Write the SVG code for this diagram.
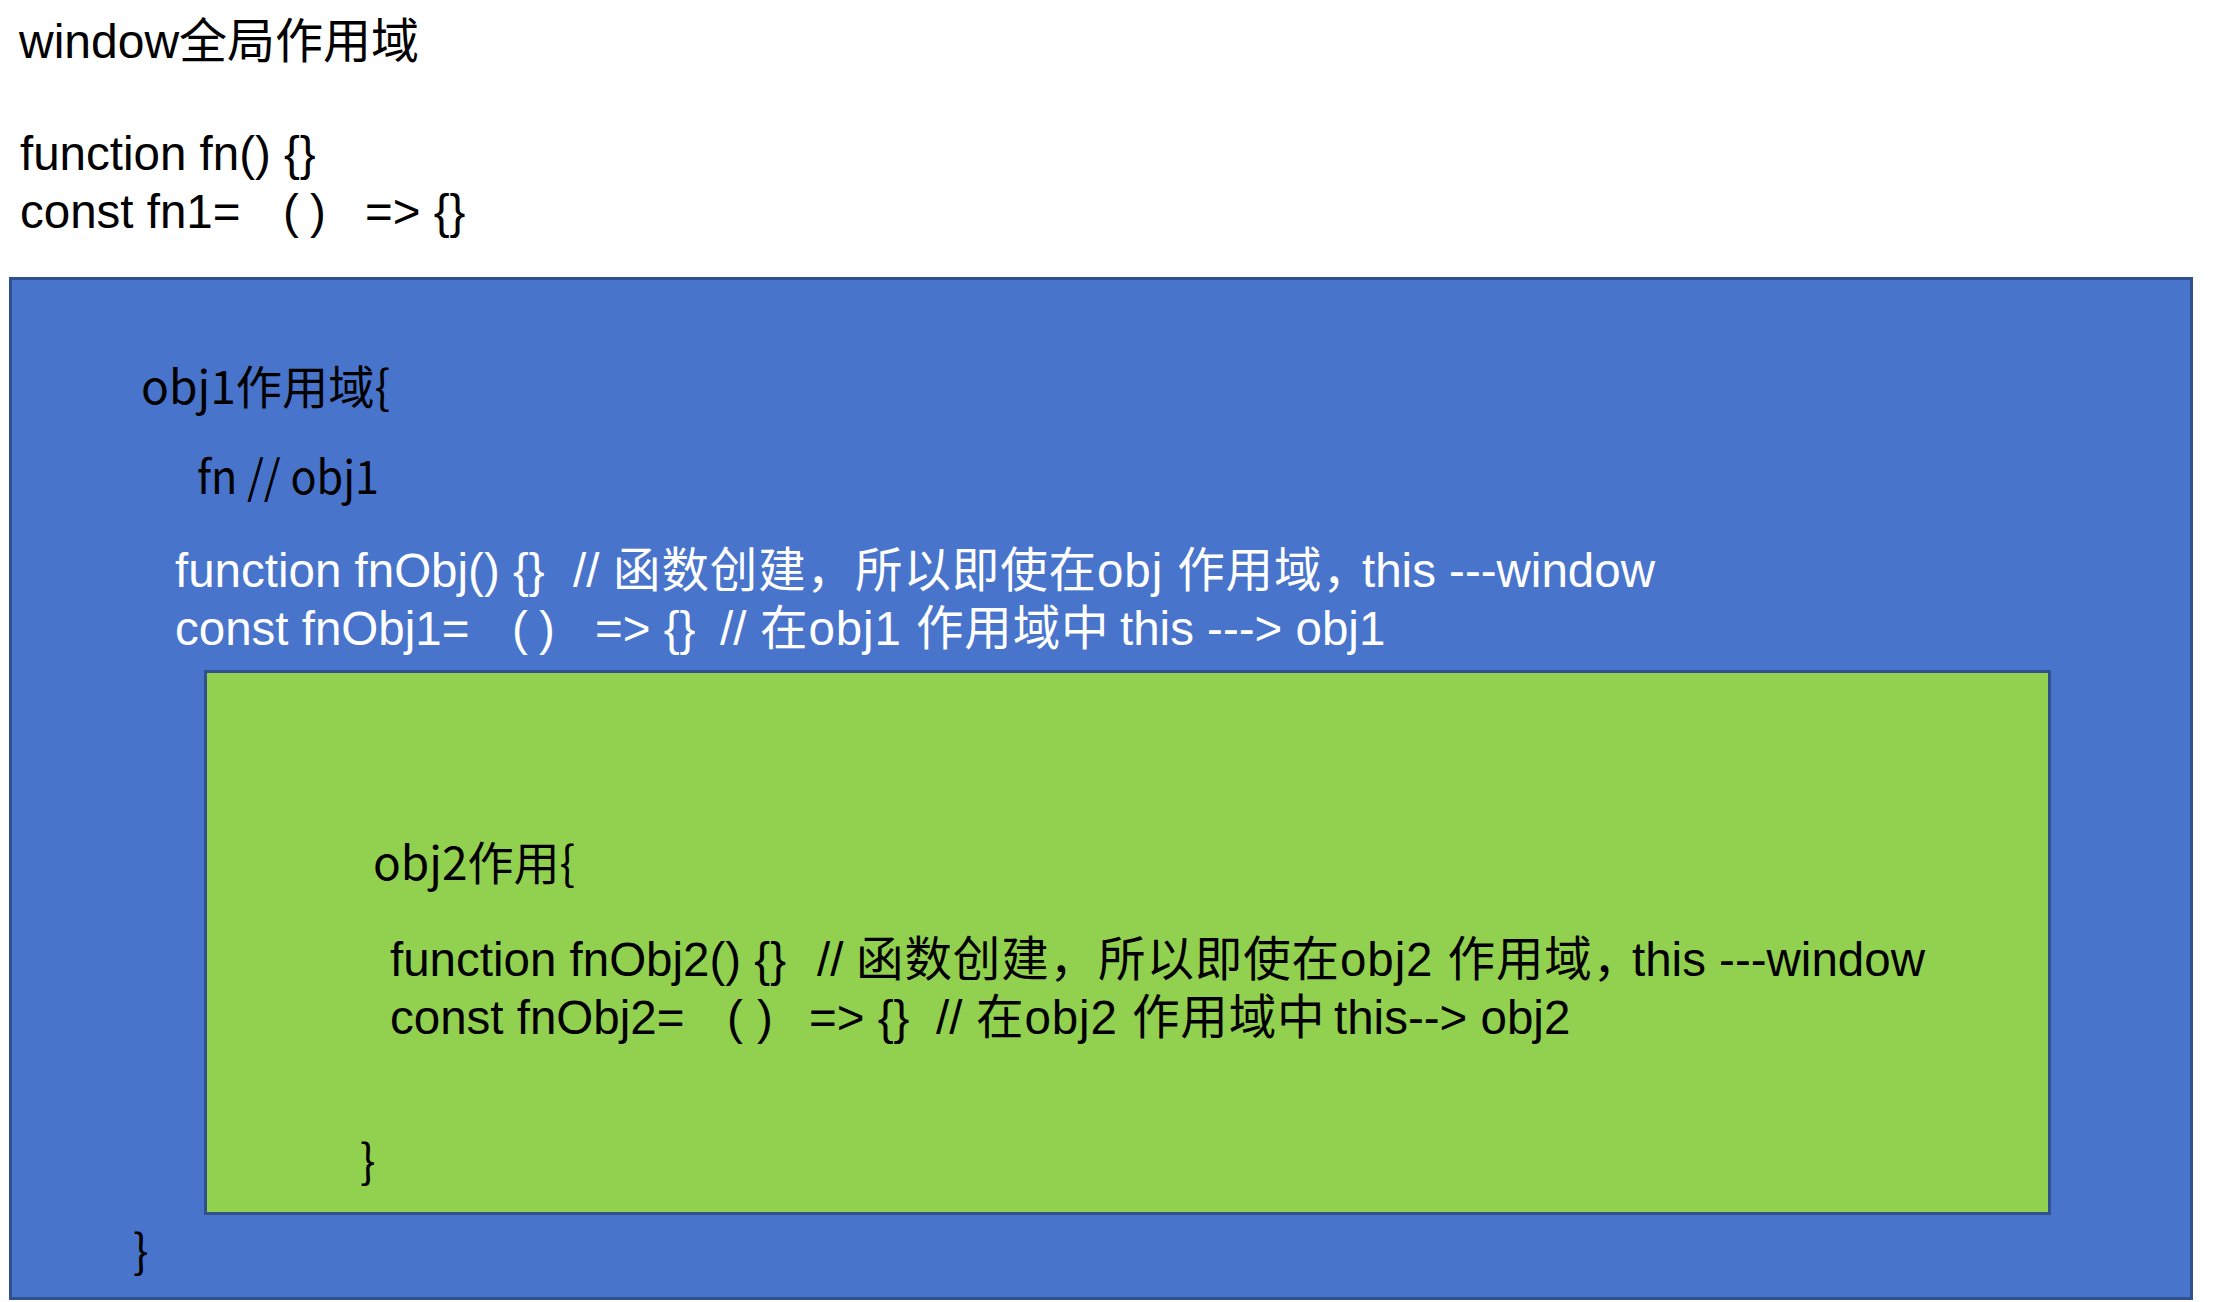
<svg xmlns="http://www.w3.org/2000/svg" width="2217" height="1302" viewBox="0 0 2217 1302">
<style>
.code { font-family: "Liberation Sans", "Noto Sans CJK SC", sans-serif; font-size: 47.5px; }
.cjk { font-family: "Noto Sans CJK SC", sans-serif; font-size: 46px; }
.dark { fill: #000000; }
.light { fill: #ffffff; }
.box { stroke: #2F528F; stroke-width: 3; }
.blue { fill: #4874CB; }
.green { fill: #92D050; }
.wide { letter-spacing: 0.9px; }
</style>
<rect x="0" y="0" width="2217" height="1302" fill="#ffffff"/>
<g id="window-scope">
  <text class="code dark" x="19" y="58" style="font-size:48px">window全局作用域</text>
  <text class="code dark" x="20" y="170">function fn() {}</text>
  <text class="code dark" y="228"><tspan x="20">const fn1= </tspan><tspan x="283">( </tspan><tspan x="310">) </tspan><tspan x="365">=&gt; {}</tspan></text>
</g>
<g id="obj1-scope">
  <rect class="box blue" x="10.5" y="278.5" width="2181" height="1020"/>
  <text class="cjk dark" x="141" y="404" textLength="249" lengthAdjust="spacingAndGlyphs">obj1作用域{</text>
  <text class="cjk dark" x="197" y="494" textLength="182" lengthAdjust="spacingAndGlyphs">fn // obj1</text>
  <text class="code light" y="587"><tspan x="175">function fnObj() {} </tspan><tspan x="573">// </tspan><tspan x="613" class="wide">函数创建，所以即使在obj 作用域，</tspan><tspan x="1362">this ---window</tspan></text>
  <text class="code light" y="645"><tspan x="175">const fnObj1= </tspan><tspan x="512">( </tspan><tspan x="539">) </tspan><tspan x="595">=&gt; {} </tspan><tspan x="720">// </tspan><tspan x="760" class="wide">在obj1 作用域中 </tspan><tspan x="1120">this ---&gt; obj1</tspan></text>
  <text class="cjk dark" x="133" y="1268">}</text>
</g>
<g id="obj2-scope">
  <rect class="box green" x="205.5" y="671.5" width="1844" height="542"/>
  <text class="cjk dark" x="373" y="880" textLength="202" lengthAdjust="spacingAndGlyphs">obj2作用{</text>
  <text class="code dark" y="976"><tspan x="390">function fnObj2() {} </tspan><tspan x="817">// </tspan><tspan x="856" class="wide">函数创建，所以即使在obj2 作用域，</tspan><tspan x="1632">this ---window</tspan></text>
  <text class="code dark" y="1034"><tspan x="390">const fnObj2= </tspan><tspan x="727">( </tspan><tspan x="757">) </tspan><tspan x="809">=&gt; {} </tspan><tspan x="936">// </tspan><tspan x="976" class="wide">在obj2 作用域中 </tspan><tspan x="1334">this--&gt; obj2</tspan></text>
  <text class="cjk dark" x="360" y="1178">}</text>
</g>
<g id="connectors"></g>
</svg>
